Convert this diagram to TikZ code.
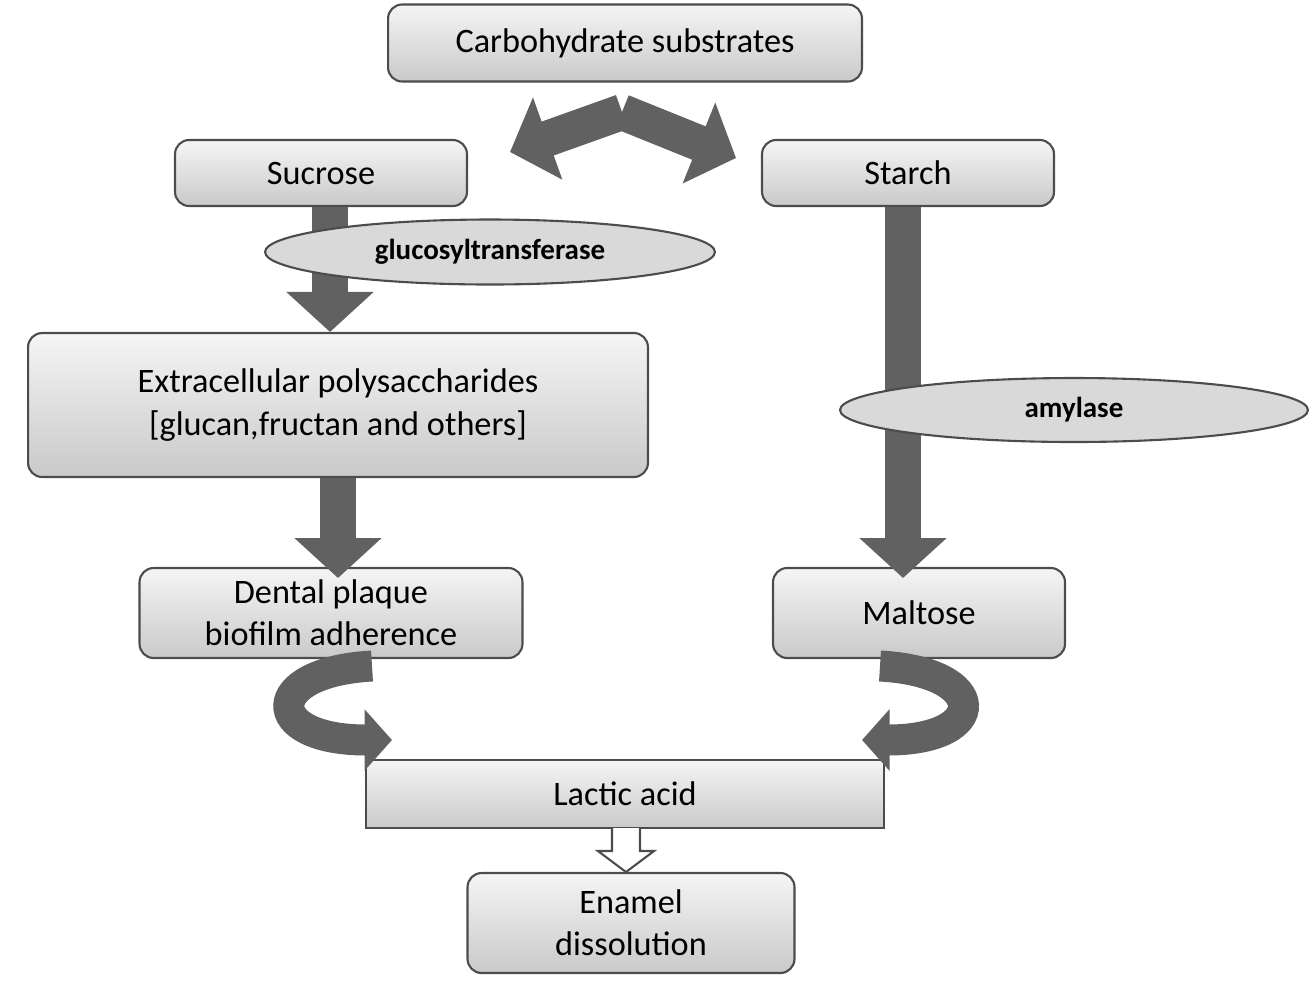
\documentclass[tikz,border=0pt]{standalone}
\usepackage{fontspec}
\setmainfont{Carlito}
\usetikzlibrary{positioning,shapes.geometric,arrows.meta}

\tikzset{
  box/.style={draw=gray!60!black, line width=1.2pt, rounded corners=8pt,
    top color=gray!8, bottom color=gray!42, align=center,
    font=\fontsize{19.5}{24}\selectfont, inner sep=0pt},
  enzyme/.style={ellipse, draw=gray!60!black, line width=1.2pt,
    fill=gray!30, font=\fontsize{16.5}{18}\selectfont\bfseries, inner sep=0pt},
  flow/.style={draw=black!62, line width=0.72cm,
    -{Triangle[length=0.8cm,width=1.7cm]}},
  turn/.style={draw=black!62, line width=0.62cm,
    -{Triangle[length=0.55cm,width=1.2cm]}}
}

\begin{document}
\begin{tikzpicture}[x=0.02cm, y=-0.02cm]
  \useasboundingbox (0,0) rectangle (1310,985);
  % boxes
  \node[box, minimum width=9.48cm, minimum height=1.54cm] (carb) at (625,43) {Carbohydrate substrates};
  \node[box, minimum width=5.84cm, minimum height=1.32cm] (suc) at (321,173) {Sucrose};
  \node[box, minimum width=5.84cm, minimum height=1.32cm] (sta) at (908,173) {Starch};
  \node[box, minimum width=12.4cm, minimum height=2.88cm] (eps) at (338,405)
    {Extracellular polysaccharides\\{}[glucan,fructan and others]};
  \node[box, minimum width=7.66cm, minimum height=1.8cm] (plq) at (331,613)
    {Dental plaque\\biofilm adherence};
  \node[box, minimum width=5.84cm, minimum height=1.8cm] (mal) at (919,613) {Maltose};
  \node[box, rounded corners=0pt, minimum width=10.36cm, minimum height=1.36cm] (lac) at (625,794) {Lactic acid};
  \node[box, minimum width=6.54cm, minimum height=2cm] (ena) at (631,923) {Enamel\\dissolution};
  % split arrow
  \coordinate (fork) at (622,112);
  \draw[flow] (fork) -- (510,152);
  \draw[flow] (fork) -- (736,158);
  % straight arrows
  \draw[flow] ([xshift=0.18cm]suc.south) -- ([xshift=0.18cm]suc.south |- eps.north);
  \draw[flow] (eps.south) -- (eps.south |- 0,578);
  \draw[flow] ([xshift=-0.1cm]sta.south) -- ([xshift=-0.1cm]sta.south |- 0,578);
  % enzymes on top
  \node[enzyme, minimum width=9cm, minimum height=1.3cm] (gtf) at (490,252) {glucosyltransferase};
  \node[enzyme, minimum width=9.36cm, minimum height=1.28cm] (amy) at (1074,410) {amylase};
  % turning arrows
  \draw[turn] (372,666) .. controls (262,672) and (262,740) .. (392,740);
  \draw[turn] (880,666) .. controls (990,672) and (990,740) .. (862,740);
  % hollow arrow
  \draw[draw=gray!60!black, line width=1.2pt, fill=white]
    (612,828) -- (612,851) -- (598,851) -- (626,872) -- (654,851) -- (640,851) -- (640,828);
\end{tikzpicture}
\end{document}
